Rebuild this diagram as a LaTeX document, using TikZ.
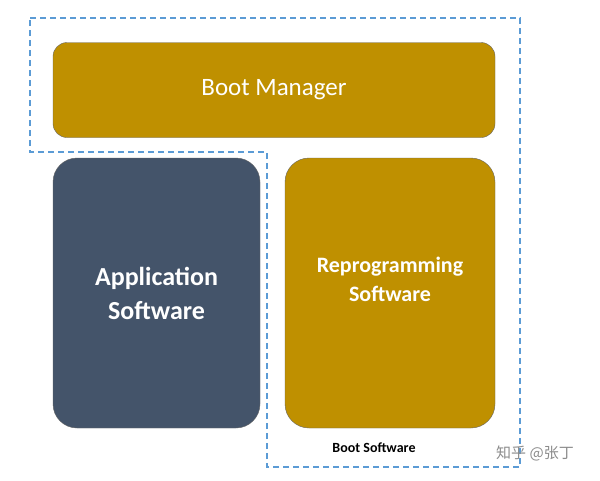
\documentclass[tikz,border=0pt]{standalone}
\usepackage{fontspec}
\setmainfont{Carlito}
\newfontfamily\cjk{Noto Sans CJK SC}
\definecolor{gold}{RGB}{191,144,0}
\definecolor{slate}{RGB}{68,84,106}
\definecolor{dashblue}{RGB}{91,155,213}
\begin{document}
\begin{tikzpicture}[x=1pt,y=-1pt,
  box/.style={draw=black!60,line width=0.4pt,rounded corners=14pt,text=white,align=center,inner sep=0pt}]
\useasboundingbox[fill=white] (0,0) rectangle (600,480);
\draw[dashblue,dash pattern=on 6pt off 4pt,line width=1.2pt] (30,18) -- (520,18) -- (520,467) -- (267,467) -- (267,152) -- (30,152) -- cycle;
\node[box,fill=gold,minimum width=442pt,minimum height=95pt,font=\fontsize{25}{28}\selectfont] (bm) at (274,90) {Boot Manager};
\node[box,fill=slate,rounded corners=24pt,minimum width=207pt,minimum height=270pt] (app) at (156.5,293) {};
\node[text=white,align=center,font=\bfseries\fontsize{26}{34}\selectfont] (appt) at (156.5,293) {Application\\Software};
\node[box,fill=gold,rounded corners=24pt,minimum width=210pt,minimum height=270pt] (rep) at (390,293) {};
\node[text=white,align=center,font=\bfseries\fontsize{22}{29}\selectfont] (rept) at (390,279) {Reprogramming\\Software};
\node[font=\bfseries\fontsize{14}{15}\selectfont] (bs) at (374,448) {Boot Software};
\node[text=black!45,font=\cjk\fontsize{15}{17}\selectfont] (wm) at (535,453) {知乎 @张丁};
\end{tikzpicture}
\end{document}
